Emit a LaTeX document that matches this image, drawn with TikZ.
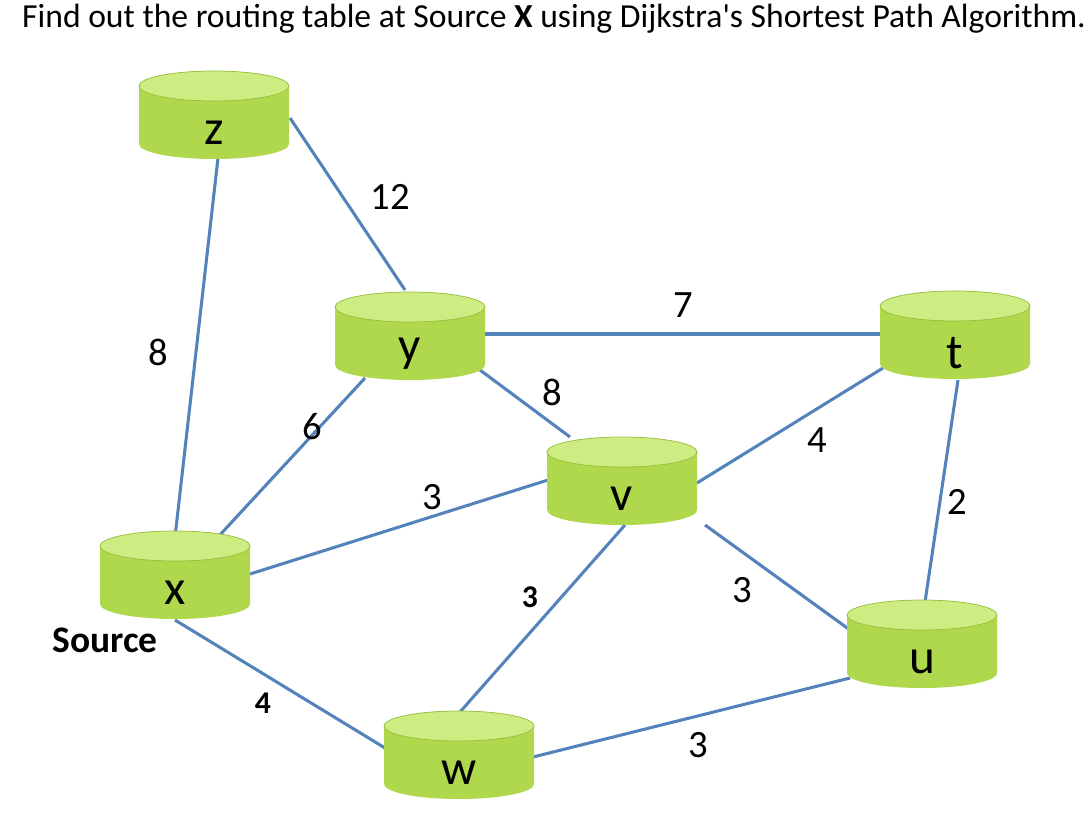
\documentclass[tikz,border=0pt]{standalone}
\usepackage{fontspec}
\setmainfont{Carlito}
\usetikzlibrary{calc}
\definecolor{edgeblue}{RGB}{84,130,186}
\definecolor{cylbody}{RGB}{176,216,76}
\definecolor{cyltop}{RGB}{205,236,130}
\definecolor{cylline}{RGB}{150,190,60}
\tikzset{
  edge/.style={edgeblue,line width=2.6pt},
  wlabel/.style={font=\fontsize{33}{35}\selectfont},
  blabel/.style={font=\bfseries\fontsize{27}{29}\selectfont},
  cylbox/.style={minimum width=4.5cm,minimum height=2.64cm,inner sep=0pt}
}
\newcommand{\cylnode}[4]{%
  \node[cylbox] (#1) at (#2,#3) {};
  \fill[cylbody] ($(#1)+(-75,-29)$) -- ($(#1)+(-75,29)$) arc[start angle=180,end angle=360,x radius=2.25cm,y radius=0.45cm] -- ($(#1)+(75,-29)$) arc[start angle=0,end angle=180,x radius=2.25cm,y radius=0.45cm] -- cycle;
  \draw[cylline,fill=cyltop,line width=0.6pt] ($(#1)+(0,-29)$) ellipse[x radius=2.25cm,y radius=0.45cm];
  \node[font=\fontsize{42}{44}\selectfont] at ($(#1)+(0,18)$) {#4};
}
\begin{document}
\begin{tikzpicture}[x=0.03cm,y=-0.03cm]
\fill[white] (0,0) rectangle (1089,814);
\useasboundingbox (0,0) rectangle (1089,814);
\node[anchor=base,font=\fontsize{28.7}{30}\selectfont] (title) at (554,28) {Find out the routing table at Source \textbf{X} using Dijkstra\textquotesingle s Shortest Path Algorithm.};
% edges
\coordinate (zc) at (214,115); \coordinate (yc) at (410,336); \coordinate (tc) at (955,335);
\coordinate (vc) at (622,481); \coordinate (xc) at (175,575); \coordinate (uc) at (922,644);
\coordinate (wc) at (459,755);
\draw[edge] ($(zc)+(4,43)$) -- ($(xc)+(0,-38)$);
\draw[edge] ($(zc)+(76,3)$) -- ($(yc)+(-5,-46)$);
\draw[edge] ($(yc)+(75,-2)$) -- ($(tc)+(-72,-1)$);
\draw[edge] ($(yc)+(70,34)$) -- ($(vc)+(-52,-44)$);
\draw[edge] ($(yc)+(-45,42)$) -- ($(xc)+(43,-38)$);
\draw[edge] ($(xc)+(75,-1)$) -- ($(vc)+(-74,-1)$);
\draw[edge] ($(tc)+(-72,33)$) -- ($(vc)+(75,2)$);
\draw[edge] ($(tc)+(3,45)$) -- ($(uc)+(3,-42)$);
\draw[edge] ($(vc)+(83,44)$) -- ($(uc)+(-72,-14)$);
\draw[edge] ($(vc)+(3,44)$) -- ($(wc)+(1,-43)$);
\draw[edge] ($(xc)+(0,45)$) -- ($(wc)+(-74,-7)$);
\draw[edge] ($(wc)+(74,2)$) -- ($(uc)+(-72,34)$);
% nodes
\cylnode{z}{214}{115}{z}
\cylnode{y}{410}{336}{y}
\cylnode{t}{955}{335}{t}
\cylnode{v}{622}{481}{v}
\cylnode{x}{175}{575}{x}
\cylnode{u}{922}{644}{u}
\cylnode{w}{459}{755}{w}
% labels
\node[wlabel] (l1) at (390,197) {12};
\node[wlabel] (l2) at (683,305) {7};
\node[wlabel] (l3) at (158,352) {8};
\node[wlabel] (l4) at (552,392) {8};
\node[wlabel] (l5) at (312,427) {6};
\node[wlabel] (l6) at (432,497) {3};
\node[wlabel] (l7) at (817,440) {4};
\node[wlabel] (l8) at (957,502) {2};
\node[blabel] (l9) at (530,597) {3};
\node[wlabel] (l10) at (742,590) {3};
\node[blabel] (l11) at (263,703) {4};
\node[wlabel] (l12) at (698,745) {3};
\node[blabel,font=\bfseries\fontsize{32}{34}\selectfont] (src) at (105,640) {Source};
\end{tikzpicture}
\end{document}
